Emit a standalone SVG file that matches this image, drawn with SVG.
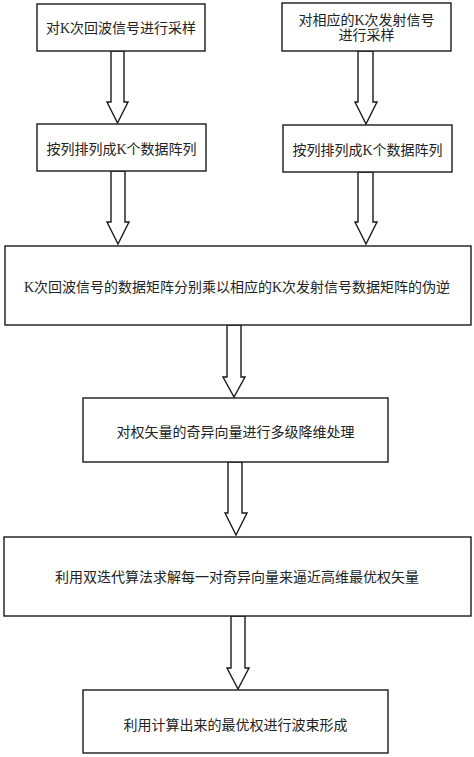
<svg xmlns="http://www.w3.org/2000/svg" width="474" height="757" viewBox="0 0 474 757">
<style>
.box{fill:#fff;stroke:#1a1a1a;stroke-width:1.4}
.arr{fill:#fff;stroke:#1a1a1a;stroke-width:1.4;stroke-linejoin:miter}
.t{font-family:"Liberation Serif","Noto Sans CJK SC",serif;font-size:14px;fill:#222;text-anchor:middle;dominant-baseline:central}
</style>
<rect width="474" height="757" fill="#fff"/>
<g id="connectors">
<polygon class="arr" points="111,51 111,102 107,102 117.5,123 128,102 124,102 124,51"/>
<polygon class="arr" points="358,51 358,102 355,102 366,124 377,102 373,102 373,51"/>
<polygon class="arr" points="111,171 111,222 107,222 118,244 129,222 125,222 125,171"/>
<polygon class="arr" points="358,172 358,222 355,222 366,244 377,222 373,222 373,172"/>
<polygon class="arr" points="227,325 227,377 223,377 234,397 245,377 241,377 241,325"/>
<polygon class="arr" points="228,462 228,513 225,513 236,535 247,513 242,513 242,462"/>
<polygon class="arr" points="231,616 231,668 227,668 238,689 249,668 245,668 245,616"/>
</g>
<g id="n1"><rect class="box" x="37" y="4" width="168" height="47"/><text class="t" x="121" y="28">对K次回波信号进行采样</text></g>
<g id="n2"><rect class="box" x="282" y="3" width="169" height="48"/><text class="t" x="366.5" y="20">对相应的K次发射信号</text><text class="t" x="366.5" y="35">进行采样</text></g>
<g id="n3"><rect class="box" x="37" y="124" width="169" height="47"/><text class="t" x="121.5" y="149">按列排列成K个数据阵列</text></g>
<g id="n4"><rect class="box" x="283" y="125" width="169" height="47"/><text class="t" x="367.5" y="150">按列排列成K个数据阵列</text></g>
<g id="n5"><rect class="box" x="5" y="246" width="466" height="79"/><text class="t" x="237" y="287">K次回波信号的数据矩阵分别乘以相应的K次发射信号数据矩阵的伪逆</text></g>
<g id="n6"><rect class="box" x="83" y="398" width="305" height="64"/><text class="t" x="235.5" y="432">对权矢量的奇异向量进行多级降维处理</text></g>
<g id="n7"><rect class="box" x="4" y="537" width="467" height="79"/><text class="t" x="237" y="577">利用双迭代算法求解每一对奇异向量来逼近高维最优权矢量</text></g>
<g id="n8"><rect class="box" x="83" y="690" width="305" height="63"/><text class="t" x="235.5" y="725">利用计算出来的最优权进行波束形成</text></g>
</svg>
